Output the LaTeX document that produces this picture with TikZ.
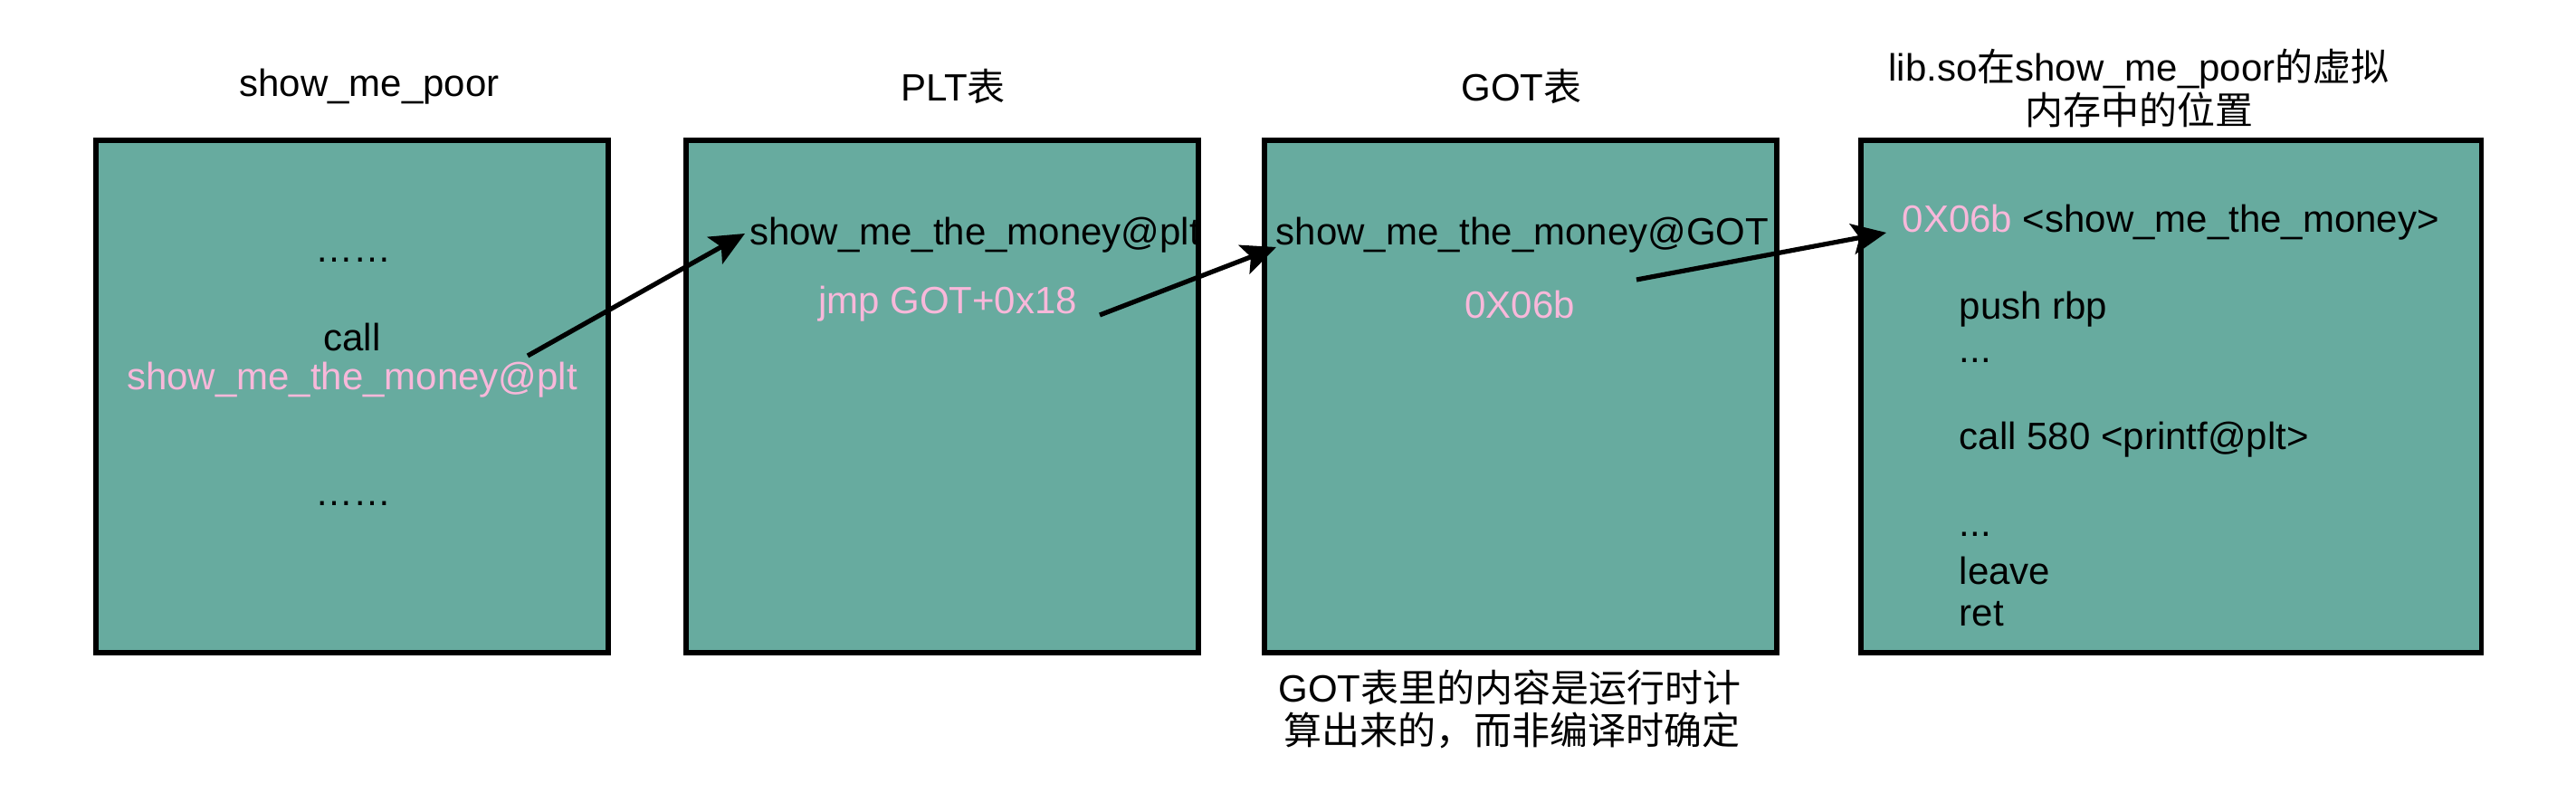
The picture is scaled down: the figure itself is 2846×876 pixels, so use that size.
\documentclass[tikz,border=0pt]{standalone}
\usepackage{fontspec}
\setmainfont{Liberation Sans}
\newfontfamily\cjk{Noto Sans CJK SC}
\usetikzlibrary{arrows.meta}
\definecolor{boxfill}{HTML}{67AB9F}
\definecolor{pinktxt}{HTML}{F8B8DA}
\begin{document}
\begin{tikzpicture}[x=0.25pt,y=-0.25pt,
  every node/.style={font=\fontsize{10.5}{12.6}\selectfont, inner sep=0pt},
  panel/.style={draw=black, line width=1.4pt, fill=boxfill, minimum width=141.6pt, minimum height=141.6pt},
  widepanel/.style={panel, minimum width=171.4pt},
  pink/.style={text=pinktxt},
  lefttxt/.style={anchor=west},
  arr/.style={line width=1.3pt, -{Stealth[length=9.5pt,width=8.5pt,inset=2pt]}}]
\useasboundingbox (0,0) rectangle (2846,876);
% panels
\node[panel] (b1) at (389,438) {};
\node[panel] (b2) at (1041,438) {};
\node[panel] (b3) at (1680,438) {};
\node[widepanel] (b4) at (2398.5,438) {};
% titles
\node (h1) at (408,96) {show\_me\_poor};
\node (h2) at (1053,96) {PLT{\cjk 表}};
\node (h3) at (1681,96) {GOT{\cjk 表}};
\node (h4a) at (2363,76) {lib.so{\cjk 在}show\_me\_poor{\cjk 的虚拟}};
\node (h4b) at (2363,121) {\cjk 内存中的位置};
% box 1
\node (d1) at (390,287) {……};
\node (c1) at (389,372) {call};
\node[pink] (p1) at (389,420) {show\_me\_the\_money@plt};
\node (d2) at (390,556) {……};
% box 2
\node (t2) at (1077,260) {show\_me\_the\_money@plt};
\node[pink] (j2) at (1047,336) {jmp GOT+0x18};
% box 3
\node (t3) at (1682,260) {show\_me\_the\_money@GOT};
\node[pink] (v3) at (1679,336) {0X06b};
% box 4
\node[lefttxt] (l1) at (2101,246) {\textcolor{pinktxt}{0X06b} <show\_me\_the\_money>};
\node[lefttxt] (l2) at (2164,342) {push rbp};
\node[lefttxt] (l3) at (2164,398) {...};
\node[lefttxt] (l4) at (2164,486) {call 580 <printf@plt>};
\node[lefttxt] (l5) at (2164,590) {...};
\node[lefttxt] (l6) at (2164,630) {leave};
\node[lefttxt] (l7) at (2164,678) {ret};
% note
\node (n1) at (1668,759) {GOT{\cjk 表里的内容是运行时计}};
\node (n2) at (1670,807) {\cjk 算出来的，而非编译时确定};
% connectors
\coordinate (a1s) at (583,393);
\coordinate (a1e) at (823,258);
\coordinate (a2s) at (1215,348);
\coordinate (a2e) at (1410,273);
\coordinate (a3s) at (1808,309);
\coordinate (a3e) at (2084,257);
\draw[arr] (a1s) -- (a1e);
\draw[arr] (a2s) -- (a2e);
\draw[arr] (a3s) -- (a3e);
\end{tikzpicture}
\end{document}
